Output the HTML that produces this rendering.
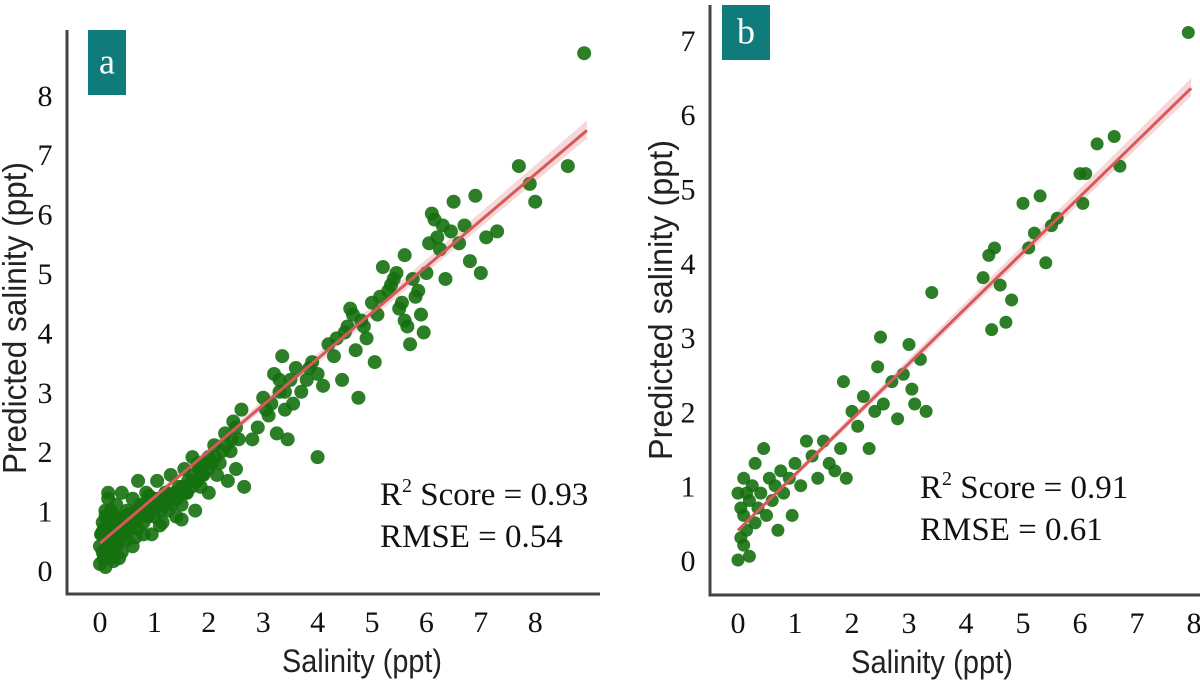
<!DOCTYPE html>
<html><head><meta charset="utf-8"><style>
body{margin:0;background:#fff;}
svg{display:block;font-family:"Liberation Serif",serif;}
.ttl{font-family:"Liberation Sans Narrow","Liberation Sans",sans-serif;}
</style></head><body>
<svg id="chart" width="1200" height="682" viewBox="0 0 1200 682" xmlns="http://www.w3.org/2000/svg">
<g id="pa"></g>
<g id="pb"></g>
</svg>
<script>
const xTicks = [0,1,2,3,4,5,6,7,8];
const yTicksA = [0,1,2,3,4,5,6,7,8];
const yTicksB = [0,1,2,3,4,5,6,7];
const xa = [0,0.05,0.1,0.05,0.1,0.15,0.2,0.2,0.25,0.3,0.3,0.35,0.4,0.4,0.45,0.5,0.5,0.55,0.6,0.6,0.65,0.7,0.7,0.75,0.8,0.85,0.9,0.95,1.0,1.0,1.05,1.1,1.15,1.2,1.25,1.3,1.35,1.4,1.45,1.5,1.55,1.6,1.7,1.75,1.8,1.85,1.9,2.0,2.0,2.1,2.15,2.2,2.3,2.35,2.4,2.45,2.5,2.55,2.6,2.65,2.8,2.9,3.0,3.1,3.2,3.25,3.3,3.35,3.4,3.45,3.5,3.6,3.7,3.8,3.9,4.0,4.0,4.1,4.2,4.3,4.45,4.5,4.6,4.7,4.75,4.8,4.9,5.0,5.05,5.1,5.2,5.3,5.4,5.5,5.6,5.65,5.7,5.8,5.9,5.95,6.0,6.1,6.2,6.3,6.35,6.5,6.6,6.8,6.9,7.0,7.1,7.3,7.7,7.9,8.0,8.6,8.9,0.1,0.2,0.3,0.15,0.25,0.05,0.35,0.45,0.55,0.65,0.8,0.9,1.1,1.3,1.5,1.7,
0.0,0.02,0.08,0.12,0.18,0.22,0.28,0.32,0.38,0.42,0.48,0.52,0.58,0.62,0.68,0.72,0.78,0.82,0.88,0.92,0.98,1.02,1.08,1.12,1.18,1.22,1.28,1.32,1.38,1.42,1.48,1.52,1.58,1.62,1.68,1.72,1.78,1.82,1.88,1.92,1.98,2.05,2.12,2.25,2.32,2.42,2.5,0.1,0.2,0.3,0.4,0.5,0.6,0.7,0.15,0.25,0.35,0.45,0.03,0.07,3.05,3.15,3.3,3.4,3.55,3.85,4.35,4.55,4.65,4.85,5.15,5.35,5.45,5.55,5.6,5.75,5.85,6.05,6.15,6.25,6.45,6.7];
const ya = [0.1,0.3,0.5,0.8,1.0,1.2,0.2,0.6,0.9,0.4,1.1,0.7,0.3,1.3,0.9,0.5,1.0,0.7,1.2,0.4,0.9,1.5,0.7,1.1,0.8,1.3,1.0,0.6,1.2,0.9,1.5,1.1,0.8,1.3,1.0,1.6,1.2,0.9,1.4,1.1,1.7,1.3,1.5,1.0,1.8,1.4,1.6,1.9,1.3,2.1,1.6,1.8,2.3,1.5,2.0,2.5,1.7,2.2,2.7,1.4,2.2,2.4,2.9,2.6,3.3,2.3,3.0,3.6,2.7,2.2,3.2,3.4,3.0,3.2,3.5,3.3,1.9,3.1,3.8,3.6,3.2,4.0,4.4,3.7,2.9,4.2,3.9,4.5,3.5,4.3,5.1,4.7,4.9,4.4,5.3,4.1,3.8,4.6,4.3,4.0,5.0,6.0,5.6,5.8,4.9,6.2,5.5,5.2,6.3,5.0,5.6,5.7,6.8,6.5,6.2,6.8,8.7,0.05,0.4,0.8,1.3,0.15,0.65,0.2,0.6,0.95,0.55,0.6,1.25,0.75,1.25,0.85,1.9,
0.4,0.6,0.7,0.3,0.5,0.9,0.7,0.5,0.8,0.6,0.8,0.7,0.9,0.8,1.0,0.9,1.0,1.1,0.9,1.2,1.0,1.1,1.2,1.0,1.1,1.3,1.2,1.1,1.3,1.2,1.3,1.4,1.3,1.5,1.4,1.6,1.5,1.7,1.6,1.8,1.7,1.8,1.9,2.0,2.1,2.2,2.4,0.9,1.0,0.9,0.6,0.8,0.8,1.0,0.6,0.4,0.5,0.7,0.6,0.2,2.7,2.8,3.2,3.0,2.8,3.4,3.9,4.1,4.3,4.1,4.6,4.8,5.0,4.5,4.2,4.9,4.7,5.5,5.9,5.4,5.7,5.8];
const xb = [0,0.05,0.1,0,0.1,0.15,0.2,0.25,0.3,0.3,0.35,0.2,0.4,0.45,0.5,0.55,0.6,0.65,0.7,0.75,0.8,0.9,0.95,1.0,1.1,1.2,1.3,1.4,1.5,1.6,1.7,1.8,1.85,1.9,2.0,2.1,2.2,2.3,2.4,2.45,2.5,2.55,2.7,2.8,2.9,3.0,3.05,3.1,3.2,3.3,3.4,4.3,4.4,4.45,4.5,4.6,4.7,4.8,5.0,5.1,5.2,5.3,5.4,5.5,5.6,6.0,6.05,6.1,6.3,6.6,6.7,7.9,0.05,0.15,0.1];
const yb = [0,0.3,0.6,0.9,1.1,0.4,0.8,1.0,0.5,1.3,0.7,0.05,0.9,1.5,0.6,1.1,0.8,1.0,0.4,1.2,0.9,1.1,0.6,1.3,1.0,1.6,1.4,1.1,1.6,1.3,1.2,1.5,2.4,1.1,2.0,1.8,2.2,1.5,2.0,2.6,3.0,2.1,2.4,1.9,2.5,2.9,2.3,2.1,2.7,2.0,3.6,3.8,4.1,3.1,4.2,3.7,3.2,3.5,4.8,4.2,4.4,4.9,4.0,4.5,4.6,5.2,4.8,5.2,5.6,5.7,5.3,7.1,0.7,0.9,0.2];
const fitA = [0.45,7.4], fitAx = [0,8.95];
const fitB = [0.4,6.35], fitBx = [0,7.95];

const NS="http://www.w3.org/2000/svg";
function mk(p,t,a){const e=document.createElementNS(NS,t);for(const k in a)e.setAttribute(k,a[k]);p.appendChild(e);return e;}

function panel(g,cfg){
  const sx=v=>cfg.x0+v*cfg.xs, sy=v=>cfg.y0-v*cfg.ys;
  const ax=mk(g,'path',{d:`M${cfg.axL},${cfg.axT} L${cfg.axL},${cfg.axB} L${cfg.axR},${cfg.axB}`,fill:'none',stroke:'#444',
    'stroke-width':3});
  
  
  const x1=cfg.fx[1], y1=cfg.fy[1];
  const band=mk(g,'polygon',{points:`${sx(cfg.fx[0])},${sy(cfg.fy[0])-2} ${sx(x1)},${sy(y1)-10} ${sx(x1)},${sy(y1)+8} ${sx(cfg.fx[0])},${sy(cfg.fy[0])+2}`,fill:'#f3c7cb',opacity:0.7});
  
  
  cfg.px.forEach((v,i)=>{
    const c=mk(g,'circle',{cx:sx(v),cy:sy(cfg.py[i]),r:cfg.r,fill:'#15700f',opacity:0.9});
    
    
  });
  const ln=mk(g,'line',{x1:sx(cfg.fx[0]),y1:sy(cfg.fy[0]),x2:sx(x1),y2:sy(y1),stroke:'#d65a5a','stroke-width':3});
  
  
  xTicks.forEach(t=>{
    const e=mk(g,'text',{x:sx(t),y:cfg.axB+38,'font-size':30,'text-anchor':'middle',fill:'#111'});e.textContent=t;
    
    
  });
  cfg.yt.forEach(t=>{
    const e=mk(g,'text',{x:cfg.axL-22,y:sy(t)+11,'font-size':30,'text-anchor':'middle',fill:'#111'});e.textContent=t;
    
    
  });
  const xt=mk(g,'text',{x:cfg.xtx,y:cfg.axB+78,'font-size':32,'text-anchor':'middle',fill:'#222','class':'ttl',textLength:cfg.xtl,lengthAdjust:'spacingAndGlyphs'});xt.textContent='Salinity (ppt)';
  
  
  const yt=mk(g,'text',{x:0,y:0,'font-size':33,'text-anchor':'middle',fill:'#222','class':'ttl',textLength:cfg.ytl,lengthAdjust:'spacingAndGlyphs',transform:`translate(${cfg.ytx},${cfg.yty}) rotate(-90)`});yt.textContent='Predicted salinity (ppt)';
  
  
  const b=mk(g,'rect',{x:cfg.bx,y:cfg.by,width:cfg.bw,height:cfg.bh,fill:'#0f7b7b'});
  
  
  const bt=mk(g,'text',{x:cfg.bx+cfg.bw/2,y:cfg.by+cfg.bh/2+11,'font-size':36,'text-anchor':'middle',fill:'#fff'});bt.textContent=cfg.lab;
  
  
  const r2=mk(g,'text',{x:cfg.sx,y:cfg.sy,'font-size':33,fill:'#111'});
  r2.innerHTML='R<tspan font-size="20" dy="-13">2</tspan><tspan dy="13"> Score = '+cfg.r2+'</tspan>';
  
  
  const rm=mk(g,'text',{x:cfg.sx,y:cfg.sy+42,'font-size':33,fill:'#111'});rm.textContent='RMSE = '+cfg.rmse;
  
  
}
panel(document.getElementById('pa'),{x0:100,xs:54.4,y0:570,ys:59.4,axL:67,axT:30,axB:594,axR:600,
  px:xa,py:ya,fx:fitAx,fy:fitA,r:7,yt:yTicksA,xtx:362,xtl:160,ytx:26,yty:318,ytl:312,bx:88,by:30,bw:38,bh:65,lab:'a',
  sx:380,sy:505,r2:'0.93',rmse:'0.54'});
panel(document.getElementById('pb'),{x0:738,xs:57,y0:560,ys:74.3,axL:710,axT:5,axB:595,axR:1200,
  px:xb,py:yb,fx:fitBx,fy:fitB,r:6.5,yt:yTicksB,xtx:932,xtl:162,ytx:672,yty:300,ytl:320,bx:722,by:5,bw:48,bh:55,lab:'b',
  sx:920,sy:498,r2:'0.91',rmse:'0.61'});
</script>
</body></html>
